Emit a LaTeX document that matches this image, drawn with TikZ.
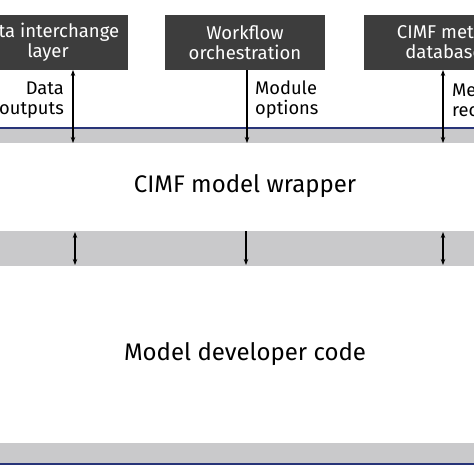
\documentclass[tikz,border=0pt]{standalone}
\usepackage{fontspec}
\setmainfont{Fira Sans}
\usetikzlibrary{arrows.meta}
\definecolor{boxfill}{RGB}{61,61,61}
\definecolor{bandgray}{RGB}{201,201,203}
\definecolor{navy}{RGB}{40,52,120}
\tikzset{
  darkbox/.style={fill=boxfill, draw=none, minimum width=160pt, minimum height=55pt, text=white, align=center, font=\fontsize{18.5}{20}\selectfont, inner sep=0pt},
  sidelabel/.style={font=\fontsize{18.3}{20}\selectfont, inner sep=0pt},
  biglabel/.style={font=\fontsize{24}{28}\selectfont, inner sep=0pt},
  band/.style={fill=bandgray, draw=none},
  navyline/.style={draw=navy, line width=1.3pt},
  flow/.style={draw=black, line width=1.1pt},
  tip/.tip={Stealth[length=6pt,width=4.5pt]}
}
\begin{document}
\begin{tikzpicture}[x=1pt,y=-1pt]
\useasboundingbox (0,0) rectangle (474,474);
\clip (0,0) rectangle (474,474);
\fill[white] (0,0) rectangle (474,474);
% bands
\fill[band] (0,128) rectangle (474,143);
\draw[navyline] (0,128) -- (474,128);
\fill[band] (0,231) rectangle (474,266);
\fill[band] (0,443) rectangle (474,463);
\draw[navyline] (0,464) -- (474,464);
% boxes
\node[darkbox] (dil) at (48,42.5) {Data interchange\\layer};
\node[darkbox] (wo) at (245,42.5) {Workflow\\orchestration};
\node[darkbox] (db) at (444,42.5) {CIMF meta-\\database};
% labels
\node[sidelabel, align=right, anchor=east] (dout) at (64,100) {Data\\outputs};
\node[sidelabel, align=left, anchor=west] (mopt) at (255,100) {Module\\options};
\node[sidelabel, align=left, anchor=west] (mrec) at (452,100) {Metadata\\records};
\node[biglabel] (wrap) at (245,186) {CIMF model wrapper};
\node[biglabel] (dev) at (245,354) {Model developer code};
% coordinates for connectors
\coordinate (a1t) at (73,70);  \coordinate (a1b) at (73,143);
\coordinate (a2t) at (247,70); \coordinate (a2b) at (247,143);
\coordinate (a3t) at (443,70); \coordinate (a3b) at (443,143);
\coordinate (b1t) at (75,232); \coordinate (b1b) at (75,265);
\coordinate (b2t) at (246,231); \coordinate (b2b) at (246,265);
\coordinate (b3t) at (443,232); \coordinate (b3b) at (443,265);
\draw[flow, tip-tip] (a1t) -- (a1b);
\draw[flow, -tip] (a2t) -- (a2b);
\draw[flow, tip-tip] (a3t) -- (a3b);
\draw[flow, tip-tip] (b1t) -- (b1b);
\draw[flow, -tip] (b2t) -- (b2b);
\draw[flow, tip-tip] (b3t) -- (b3b);
\end{tikzpicture}
\end{document}
